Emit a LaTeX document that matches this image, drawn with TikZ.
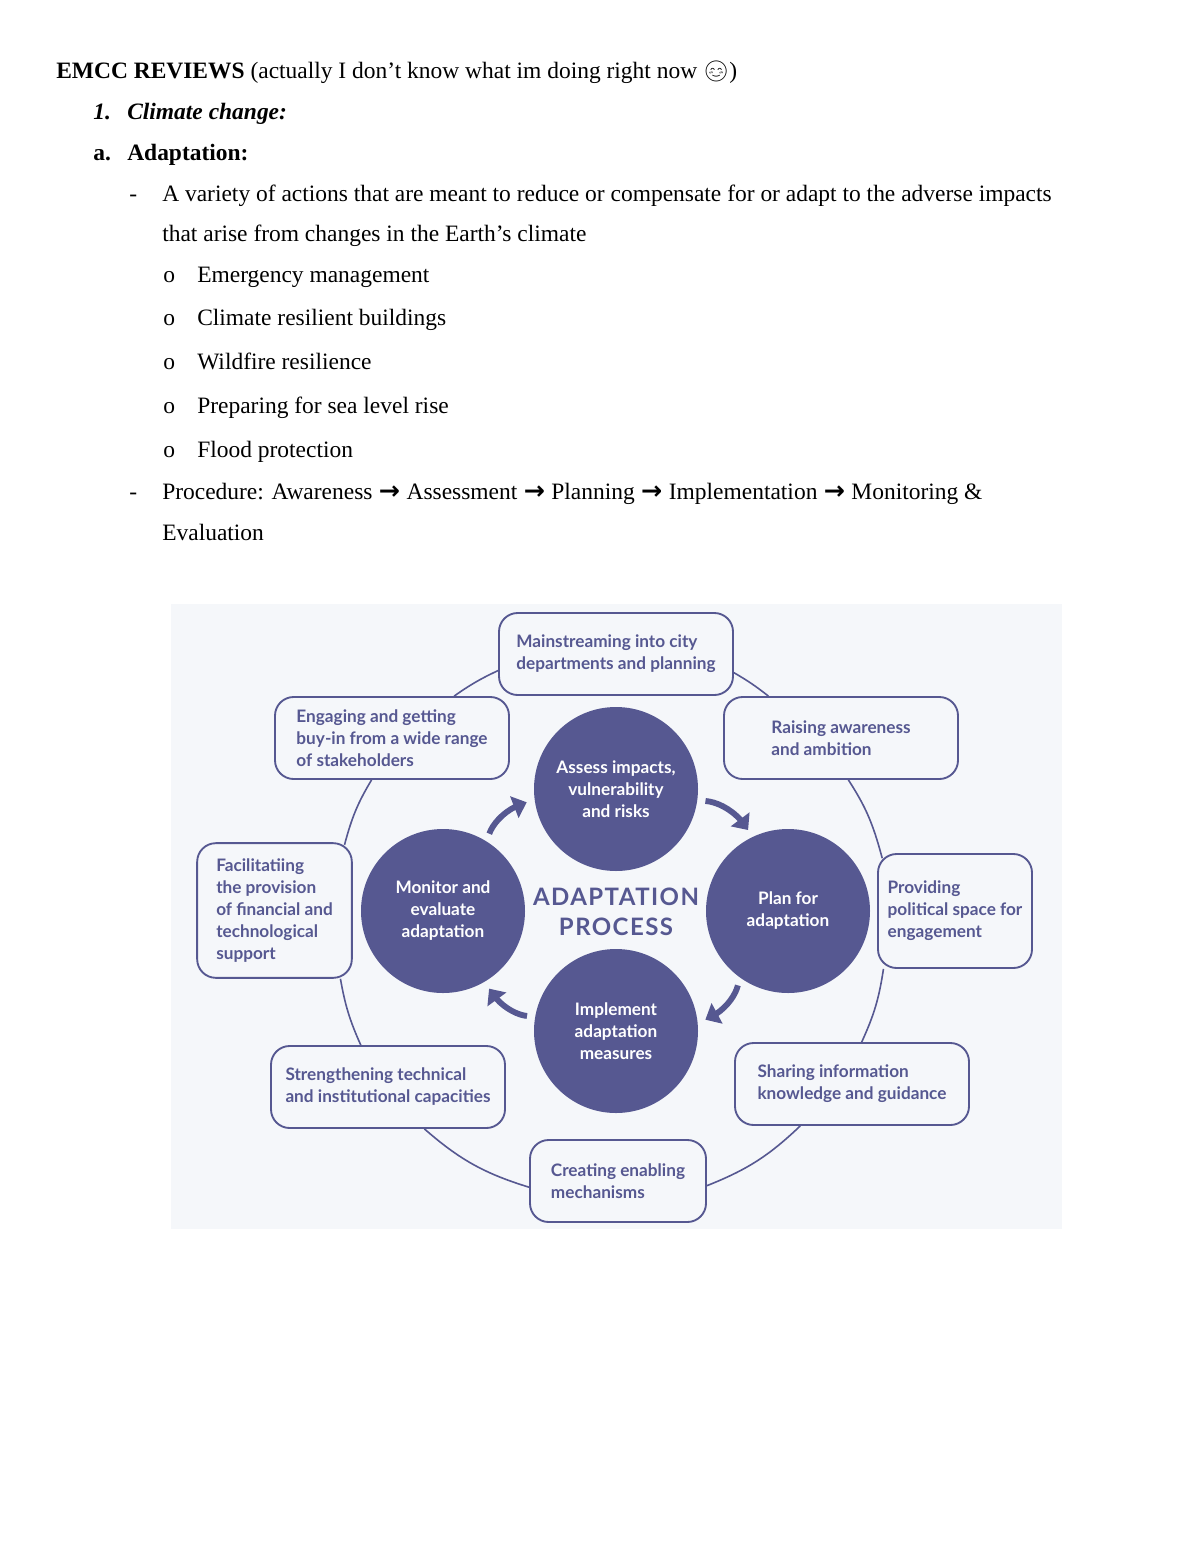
\documentclass[tikz,border=0pt]{standalone}
\usepackage{fontspec}
\setmainfont{Liberation Serif}
\newfontfamily\diagfont{Lato}
\newfontfamily\titlefont[LetterSpace=6]{Lato}
\newfontfamily\emojifont{Noto Emoji}
\newfontfamily\arrowfont{DejaVu Sans}
\usetikzlibrary{arrows.meta,positioning,bending}
\definecolor{ink}{HTML}{565891}
\definecolor{panel}{HTML}{F5F7FA}
\newcommand{\rarr}{\hspace{.4pt}{\arrowfont\bfseries\fontsize{19}{20}\selectfont\char"2192}\hspace{.4pt}}

\begin{document}
\begin{tikzpicture}[x=.75pt,y=-.75pt,
  txt/.style={anchor=base west,inner sep=0pt,font=\fontsize{17.6}{20}\selectfont},
  box/.style={draw=ink,line width=1.4pt,fill=panel,rounded corners=14pt,align=left,text=ink,
    font=\diagfont\bfseries\fontsize{12.9}{16.5}\selectfont,inner sep=0pt,
    execute at begin node={\rule{0pt}{11.8pt}}},
  wide/.style={box,minimum width=175.5pt,minimum height=61.5pt},
  stage/.style={circle,fill=ink,minimum size=123pt,inner sep=0pt,align=center,text=white,
    font=\diagfont\bfseries\fontsize{12.9}{16.5}\selectfont,
    execute at begin node={\rule{0pt}{11.8pt}}},
  link/.style={draw=ink,line width=1.2pt},
  flow/.style={draw=ink,line width=4.4pt,-{Triangle[width=17pt,length=10pt,flex]},shorten <=6pt,shorten >=6pt}]
  \useasboundingbox (0,0) rectangle (1200,1553);
  % text lines
  \node[txt] (head) at (56,78) {\textbf{EMCC REVIEWS} (actually I don’t know what im doing right now {\emojifont\fontsize{15.5}{20}\selectfont\char"1F60A})};
  \node[txt] (numone) at (93,119) {\textbf{\textit{1.}}};
  \node[txt] (climate) at (127,119) {\textbf{\textit{Climate change:}}};
  \node[txt] (lettera) at (93,160) {\textbf{a.}};
  \node[txt] (adapt) at (127,160) {\textbf{Adaptation:}};
  \node[txt] (dashone) at (129,201) {-};
  \node[txt] (variety) at (162,201) {A variety of actions that are meant to reduce or compensate for or adapt to the adverse impacts};
  \node[txt] (arise) at (162,241) {that arise from changes in the Earth’s climate};
  \node[txt] (oa) at (163,282) {o};
  \node[txt] (emerg) at (197,282) {Emergency management};
  \node[txt] (ob) at (163,325) {o};
  \node[txt] (build) at (197,325) {Climate resilient buildings};
  \node[txt] (oc) at (163,369) {o};
  \node[txt] (fire) at (197,369) {Wildfire resilience};
  \node[txt] (od) at (163,413) {o};
  \node[txt] (sea) at (197,413) {Preparing for sea level rise};
  \node[txt] (oe) at (163,457) {o};
  \node[txt] (flood) at (197,457) {Flood protection};
  \node[txt] (dashtwo) at (129,499) {-};
  \node[txt] (proc) at (162,499) {Procedure: Awareness \rarr{} Assessment \rarr{} Planning \rarr{} Implementation \rarr{} Monitoring \&};
  \node[txt] (evalu) at (162,540) {Evaluation};
  % panel
  \fill[panel] (171,604) rectangle (1062,1229);
  % outer ring
  \node[wide] (main) at (616,654) {Mainstreaming into city\\departments and planning};
  \node[wide] (engage) at (392,738) {Engaging and getting\\buy-in from a wide range\\of stakeholders};
  \node[wide] (raise) at (841,738) {Raising awareness\\and ambition};
  \node[box,minimum width=116pt,minimum height=101pt] (facil) at (274.5,910.5) {Facilitatiing\\the provision\\of financial and\\technological\\support};
  \node[box,minimum width=115.5pt,minimum height=85.5pt] (provide) at (955,911) {Providing\\political space for\\engagement};
  \node[wide] (strength) at (388,1087) {Strengthening technical\\and institutional capacities};
  \node[wide] (share) at (852,1084) {Sharing information\\knowledge and guidance};
  \node[box,minimum width=132pt,minimum height=61.5pt] (create) at (618,1181) {Creating enabling\\mechanisms};
  \draw[link] (main.188) to[bend right=5] (engage.34);
  \draw[link,shorten >=-2pt] (engage.244) to[bend right=8] (facil.44);
  \draw[link] (facil.314) to[bend right=7] (strength.123);
  \draw[link] (strength.311) to[bend right=12] (create.184);
  \draw[link] (create.357) to[bend right=11] (share.219);
  \draw[link] (share.77) to[bend right=8] (provide.219);
  \draw[link,shorten <=-4pt] (provide.142) to[bend right=9] (raise.280);
  \draw[link] (raise.150) to[bend right=4] (main.351);
  % inner cycle
  \node[stage] (assess) at (616,789) {Assess impacts,\\vulnerability\\and risks};
  \node[stage] (plan) at (788,911) {Plan for\\adaptation};
  \node[stage] (impl) at (616,1031) {Implement\\adaptation\\measures};
  \node[stage] (monitor) at (443,911) {Monitor and\\evaluate\\adaptation};
  \node[text=ink,align=center,inner sep=0pt,font=\titlefont\bfseries\fontsize{18}{22.5}\selectfont] (centre) at (616,912) {ADAPTATION\\PROCESS};
  \draw[flow] (assess.-8) to[bend left=30] (plan.116);
  \draw[flow] (plan.234) to[bend left=30] (impl.6);
  \draw[flow] (impl.170) to[bend left=30] (monitor.-59);
  \draw[flow] (monitor.58) to[bend left=30] (assess.188);
\end{tikzpicture}
\end{document}
